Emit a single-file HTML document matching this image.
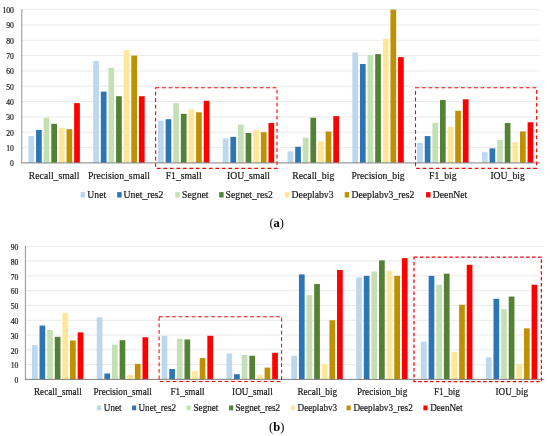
<!DOCTYPE html>
<html><head><meta charset="utf-8"><title>Figure</title>
<style>
html,body{margin:0;padding:0;background:#fff;}
svg{display:block;}
text{font-family:"Liberation Serif","Times New Roman",serif;fill:#1a1a1a;stroke:#1a1a1a;stroke-width:0.22px;}
.cap{font-size:12.5px;fill:#000;stroke:none;}
</style></head><body>
<svg width="550" height="436" viewBox="0 0 550 436">
<rect width="550" height="436" fill="#fff"/>
<text transform="translate(13.90,166.45) scale(0.85,1)" text-anchor="end" font-size="9" class="tk">0</text>
<line x1="21.75" x2="540.0" y1="147.57" y2="147.57" stroke="#E6E6E6" stroke-width="0.85"/>
<text transform="translate(13.90,151.12) scale(0.85,1)" text-anchor="end" font-size="9" class="tk">10</text>
<line x1="21.75" x2="540.0" y1="132.24" y2="132.24" stroke="#E6E6E6" stroke-width="0.85"/>
<text transform="translate(13.90,135.79) scale(0.85,1)" text-anchor="end" font-size="9" class="tk">20</text>
<line x1="21.75" x2="540.0" y1="116.91" y2="116.91" stroke="#E6E6E6" stroke-width="0.85"/>
<text transform="translate(13.90,120.46) scale(0.85,1)" text-anchor="end" font-size="9" class="tk">30</text>
<line x1="21.75" x2="540.0" y1="101.58" y2="101.58" stroke="#E6E6E6" stroke-width="0.85"/>
<text transform="translate(13.90,105.13) scale(0.85,1)" text-anchor="end" font-size="9" class="tk">40</text>
<line x1="21.75" x2="540.0" y1="86.25" y2="86.25" stroke="#E6E6E6" stroke-width="0.85"/>
<text transform="translate(13.90,89.80) scale(0.85,1)" text-anchor="end" font-size="9" class="tk">50</text>
<line x1="21.75" x2="540.0" y1="70.92" y2="70.92" stroke="#E6E6E6" stroke-width="0.85"/>
<text transform="translate(13.90,74.47) scale(0.85,1)" text-anchor="end" font-size="9" class="tk">60</text>
<line x1="21.75" x2="540.0" y1="55.59" y2="55.59" stroke="#E6E6E6" stroke-width="0.85"/>
<text transform="translate(13.90,59.14) scale(0.85,1)" text-anchor="end" font-size="9" class="tk">70</text>
<line x1="21.75" x2="540.0" y1="40.26" y2="40.26" stroke="#E6E6E6" stroke-width="0.85"/>
<text transform="translate(13.90,43.81) scale(0.85,1)" text-anchor="end" font-size="9" class="tk">80</text>
<line x1="21.75" x2="540.0" y1="24.93" y2="24.93" stroke="#E6E6E6" stroke-width="0.85"/>
<text transform="translate(13.90,28.48) scale(0.85,1)" text-anchor="end" font-size="9" class="tk">90</text>
<line x1="21.75" x2="540.0" y1="9.60" y2="9.60" stroke="#E6E6E6" stroke-width="0.85"/>
<text transform="translate(13.90,13.15) scale(0.85,1)" text-anchor="end" font-size="9" class="tk">100</text>
<rect x="28.43" y="136.07" width="5.7" height="26.83" fill="#BDD7EE"/>
<rect x="36.05" y="129.94" width="5.7" height="32.96" fill="#2E75B6"/>
<rect x="43.67" y="117.68" width="5.7" height="45.22" fill="#C5E0B4"/>
<rect x="51.29" y="123.81" width="5.7" height="39.09" fill="#548235"/>
<rect x="58.91" y="127.64" width="5.7" height="35.26" fill="#FFE699"/>
<rect x="66.53" y="129.17" width="5.7" height="33.73" fill="#BF9000"/>
<rect x="74.15" y="103.11" width="5.7" height="59.79" fill="#FF0000"/>
<text transform="translate(54.14,179.35) scale(0.881,1)" text-anchor="middle" font-size="11.0" class="cat">Recall_small</text>
<rect x="93.21" y="60.96" width="5.7" height="101.94" fill="#BDD7EE"/>
<rect x="100.83" y="91.62" width="5.7" height="71.28" fill="#2E75B6"/>
<rect x="108.45" y="67.85" width="5.7" height="95.05" fill="#C5E0B4"/>
<rect x="116.07" y="96.21" width="5.7" height="66.69" fill="#548235"/>
<rect x="123.69" y="50.22" width="5.7" height="112.68" fill="#FFE699"/>
<rect x="131.31" y="55.59" width="5.7" height="107.31" fill="#BF9000"/>
<rect x="138.93" y="96.21" width="5.7" height="66.69" fill="#FF0000"/>
<text transform="translate(118.92,179.35) scale(0.881,1)" text-anchor="middle" font-size="11.0" class="cat">Precision_small</text>
<rect x="157.99" y="120.74" width="5.7" height="42.16" fill="#BDD7EE"/>
<rect x="165.61" y="119.21" width="5.7" height="43.69" fill="#2E75B6"/>
<rect x="173.23" y="103.11" width="5.7" height="59.79" fill="#C5E0B4"/>
<rect x="180.85" y="113.84" width="5.7" height="49.06" fill="#548235"/>
<rect x="188.47" y="109.25" width="5.7" height="53.66" fill="#FFE699"/>
<rect x="196.09" y="112.31" width="5.7" height="50.59" fill="#BF9000"/>
<rect x="203.71" y="100.81" width="5.7" height="62.09" fill="#FF0000"/>
<text transform="translate(183.70,179.35) scale(0.881,1)" text-anchor="middle" font-size="11.0" class="cat">F1_small</text>
<rect x="222.77" y="138.37" width="5.7" height="24.53" fill="#BDD7EE"/>
<rect x="230.39" y="136.84" width="5.7" height="26.06" fill="#2E75B6"/>
<rect x="238.01" y="124.58" width="5.7" height="38.33" fill="#C5E0B4"/>
<rect x="245.63" y="133.01" width="5.7" height="29.89" fill="#548235"/>
<rect x="253.25" y="129.94" width="5.7" height="32.96" fill="#FFE699"/>
<rect x="260.87" y="132.24" width="5.7" height="30.66" fill="#BF9000"/>
<rect x="268.49" y="123.04" width="5.7" height="39.86" fill="#FF0000"/>
<text transform="translate(248.48,179.35) scale(0.881,1)" text-anchor="middle" font-size="11.0" class="cat">IOU_small</text>
<rect x="287.56" y="151.40" width="5.7" height="11.50" fill="#BDD7EE"/>
<rect x="295.18" y="146.80" width="5.7" height="16.10" fill="#2E75B6"/>
<rect x="302.80" y="137.61" width="5.7" height="25.29" fill="#C5E0B4"/>
<rect x="310.42" y="117.68" width="5.7" height="45.22" fill="#548235"/>
<rect x="318.04" y="141.44" width="5.7" height="21.46" fill="#FFE699"/>
<rect x="325.66" y="131.47" width="5.7" height="31.43" fill="#BF9000"/>
<rect x="333.28" y="116.14" width="5.7" height="46.76" fill="#FF0000"/>
<text transform="translate(313.27,179.35) scale(0.881,1)" text-anchor="middle" font-size="11.0" class="cat">Recall_big</text>
<rect x="352.34" y="52.52" width="5.7" height="110.38" fill="#BDD7EE"/>
<rect x="359.96" y="64.02" width="5.7" height="98.88" fill="#2E75B6"/>
<rect x="367.58" y="54.82" width="5.7" height="108.08" fill="#C5E0B4"/>
<rect x="375.20" y="54.06" width="5.7" height="108.84" fill="#548235"/>
<rect x="382.82" y="38.73" width="5.7" height="124.17" fill="#FFE699"/>
<rect x="390.44" y="9.60" width="5.7" height="153.30" fill="#BF9000"/>
<rect x="398.06" y="57.12" width="5.7" height="105.78" fill="#FF0000"/>
<text transform="translate(378.05,179.35) scale(0.881,1)" text-anchor="middle" font-size="11.0" class="cat">Precision_big</text>
<rect x="417.12" y="142.97" width="5.7" height="19.93" fill="#BDD7EE"/>
<rect x="424.74" y="136.07" width="5.7" height="26.83" fill="#2E75B6"/>
<rect x="432.36" y="123.04" width="5.7" height="39.86" fill="#C5E0B4"/>
<rect x="439.98" y="100.05" width="5.7" height="62.85" fill="#548235"/>
<rect x="447.60" y="126.87" width="5.7" height="36.03" fill="#FFE699"/>
<rect x="455.22" y="110.78" width="5.7" height="52.12" fill="#BF9000"/>
<rect x="462.84" y="99.28" width="5.7" height="63.62" fill="#FF0000"/>
<text transform="translate(442.83,179.35) scale(0.881,1)" text-anchor="middle" font-size="11.0" class="cat">F1_big</text>
<rect x="481.90" y="152.17" width="5.7" height="10.73" fill="#BDD7EE"/>
<rect x="489.52" y="148.34" width="5.7" height="14.56" fill="#2E75B6"/>
<rect x="497.14" y="139.91" width="5.7" height="23.00" fill="#C5E0B4"/>
<rect x="504.76" y="123.04" width="5.7" height="39.86" fill="#548235"/>
<rect x="512.38" y="142.20" width="5.7" height="20.70" fill="#FFE699"/>
<rect x="520.00" y="131.47" width="5.7" height="31.43" fill="#BF9000"/>
<rect x="527.62" y="122.28" width="5.7" height="40.62" fill="#FF0000"/>
<text transform="translate(507.61,179.35) scale(0.881,1)" text-anchor="middle" font-size="11.0" class="cat">IOU_big</text>
<line x1="21.75" x2="21.75" y1="9.2" y2="163.5" stroke="#858585" stroke-width="0.9"/>
<line x1="21.25" x2="540.0" y1="162.9" y2="162.9" stroke="#808080" stroke-width="1"/>
<rect x="155.6" y="87.7" width="121.40" height="80.70" fill="none" stroke="#FF0000" stroke-width="1.1" stroke-dasharray="3.7 2.8"/>
<rect x="415.5" y="87.7" width="121.10" height="80.70" fill="none" stroke="#FF0000" stroke-width="1.1" stroke-dasharray="3.7 2.8"/>
<rect x="80.6" y="192.10" width="4.4" height="5.4" fill="#BDD7EE"/>
<text transform="translate(87.30,198.20) scale(0.881,1)" text-anchor="start" font-size="11.0" class="leg">Unet</text>
<rect x="117.2" y="192.10" width="4.4" height="5.4" fill="#2E75B6"/>
<text transform="translate(123.60,198.20) scale(0.881,1)" text-anchor="start" font-size="11.0" class="leg">Unet_res2</text>
<rect x="175.3" y="192.10" width="4.4" height="5.4" fill="#C5E0B4"/>
<text transform="translate(182.10,198.20) scale(0.881,1)" text-anchor="start" font-size="11.0" class="leg">Segnet</text>
<rect x="219.2" y="192.10" width="4.4" height="5.4" fill="#548235"/>
<text transform="translate(225.60,198.20) scale(0.881,1)" text-anchor="start" font-size="11.0" class="leg">Segnet_res2</text>
<rect x="284.8" y="192.10" width="4.4" height="5.4" fill="#FFE699"/>
<text transform="translate(291.60,198.20) scale(0.881,1)" text-anchor="start" font-size="11.0" class="leg">Deeplabv3</text>
<rect x="344.7" y="192.10" width="4.4" height="5.4" fill="#BF9000"/>
<text transform="translate(351.50,198.20) scale(0.881,1)" text-anchor="start" font-size="11.0" class="leg">Deeplabv3_res2</text>
<rect x="426.1" y="192.10" width="4.4" height="5.4" fill="#FF0000"/>
<text transform="translate(432.80,198.20) scale(0.881,1)" text-anchor="start" font-size="11.0" class="leg">DeenNet</text>
<text x="276.7" y="226.9" text-anchor="middle" class="cap">(<tspan font-weight="bold">a</tspan>)</text>
<text transform="translate(18.40,383.10) scale(0.85,1)" text-anchor="end" font-size="9" class="tk">0</text>
<line x1="25.4" x2="544.2" y1="364.61" y2="364.61" stroke="#E6E6E6" stroke-width="0.85"/>
<text transform="translate(18.40,368.31) scale(0.85,1)" text-anchor="end" font-size="9" class="tk">10</text>
<line x1="25.4" x2="544.2" y1="349.82" y2="349.82" stroke="#E6E6E6" stroke-width="0.85"/>
<text transform="translate(18.40,353.52) scale(0.85,1)" text-anchor="end" font-size="9" class="tk">20</text>
<line x1="25.4" x2="544.2" y1="335.03" y2="335.03" stroke="#E6E6E6" stroke-width="0.85"/>
<text transform="translate(18.40,338.73) scale(0.85,1)" text-anchor="end" font-size="9" class="tk">30</text>
<line x1="25.4" x2="544.2" y1="320.24" y2="320.24" stroke="#E6E6E6" stroke-width="0.85"/>
<text transform="translate(18.40,323.94) scale(0.85,1)" text-anchor="end" font-size="9" class="tk">40</text>
<line x1="25.4" x2="544.2" y1="305.46" y2="305.46" stroke="#E6E6E6" stroke-width="0.85"/>
<text transform="translate(18.40,309.16) scale(0.85,1)" text-anchor="end" font-size="9" class="tk">50</text>
<line x1="25.4" x2="544.2" y1="290.67" y2="290.67" stroke="#E6E6E6" stroke-width="0.85"/>
<text transform="translate(18.40,294.37) scale(0.85,1)" text-anchor="end" font-size="9" class="tk">60</text>
<line x1="25.4" x2="544.2" y1="275.88" y2="275.88" stroke="#E6E6E6" stroke-width="0.85"/>
<text transform="translate(18.40,279.58) scale(0.85,1)" text-anchor="end" font-size="9" class="tk">70</text>
<line x1="25.4" x2="544.2" y1="261.09" y2="261.09" stroke="#E6E6E6" stroke-width="0.85"/>
<text transform="translate(18.40,264.79) scale(0.85,1)" text-anchor="end" font-size="9" class="tk">80</text>
<line x1="25.4" x2="544.2" y1="246.30" y2="246.30" stroke="#E6E6E6" stroke-width="0.85"/>
<text transform="translate(18.40,250.00) scale(0.85,1)" text-anchor="end" font-size="9" class="tk">90</text>
<rect x="31.92" y="344.94" width="5.7" height="34.46" fill="#BDD7EE"/>
<rect x="39.53" y="325.57" width="5.7" height="53.83" fill="#2E75B6"/>
<rect x="47.16" y="330.01" width="5.7" height="49.39" fill="#C5E0B4"/>
<rect x="54.77" y="336.81" width="5.7" height="42.59" fill="#548235"/>
<rect x="62.39" y="312.85" width="5.7" height="66.55" fill="#FFE699"/>
<rect x="70.02" y="340.51" width="5.7" height="38.89" fill="#BF9000"/>
<rect x="77.64" y="332.37" width="5.7" height="47.03" fill="#FF0000"/>
<text transform="translate(57.83,394.55) scale(0.897,1)" text-anchor="middle" font-size="10.2" class="cat">Recall_small</text>
<rect x="96.77" y="317.29" width="5.7" height="62.11" fill="#BDD7EE"/>
<rect x="104.39" y="373.48" width="5.7" height="5.92" fill="#2E75B6"/>
<rect x="112.00" y="344.65" width="5.7" height="34.75" fill="#C5E0B4"/>
<rect x="119.62" y="340.21" width="5.7" height="39.19" fill="#548235"/>
<rect x="127.25" y="374.96" width="5.7" height="4.44" fill="#FFE699"/>
<rect x="134.87" y="363.87" width="5.7" height="15.53" fill="#BF9000"/>
<rect x="142.49" y="337.25" width="5.7" height="42.15" fill="#FF0000"/>
<text transform="translate(122.68,394.55) scale(0.897,1)" text-anchor="middle" font-size="10.2" class="cat">Precision_small</text>
<rect x="161.62" y="335.77" width="5.7" height="43.63" fill="#BDD7EE"/>
<rect x="169.24" y="369.05" width="5.7" height="10.35" fill="#2E75B6"/>
<rect x="176.86" y="338.73" width="5.7" height="40.67" fill="#C5E0B4"/>
<rect x="184.48" y="339.47" width="5.7" height="39.93" fill="#548235"/>
<rect x="192.10" y="371.27" width="5.7" height="8.13" fill="#FFE699"/>
<rect x="199.72" y="357.96" width="5.7" height="21.44" fill="#BF9000"/>
<rect x="207.34" y="335.77" width="5.7" height="43.63" fill="#FF0000"/>
<text transform="translate(187.53,394.55) scale(0.897,1)" text-anchor="middle" font-size="10.2" class="cat">F1_small</text>
<rect x="226.47" y="353.52" width="5.7" height="25.88" fill="#BDD7EE"/>
<rect x="234.09" y="374.22" width="5.7" height="5.18" fill="#2E75B6"/>
<rect x="241.71" y="355.00" width="5.7" height="24.40" fill="#C5E0B4"/>
<rect x="249.33" y="355.74" width="5.7" height="23.66" fill="#548235"/>
<rect x="256.95" y="374.96" width="5.7" height="4.44" fill="#FFE699"/>
<rect x="264.57" y="367.57" width="5.7" height="11.83" fill="#BF9000"/>
<rect x="272.19" y="352.78" width="5.7" height="26.62" fill="#FF0000"/>
<text transform="translate(252.38,394.55) scale(0.897,1)" text-anchor="middle" font-size="10.2" class="cat">IOU_small</text>
<rect x="291.31" y="355.74" width="5.7" height="23.66" fill="#BDD7EE"/>
<rect x="298.94" y="274.40" width="5.7" height="105.00" fill="#2E75B6"/>
<rect x="306.56" y="295.10" width="5.7" height="84.30" fill="#C5E0B4"/>
<rect x="314.18" y="284.01" width="5.7" height="95.39" fill="#548235"/>
<rect x="321.80" y="363.87" width="5.7" height="15.53" fill="#FFE699"/>
<rect x="329.42" y="320.24" width="5.7" height="59.16" fill="#BF9000"/>
<rect x="337.04" y="269.96" width="5.7" height="109.44" fill="#FF0000"/>
<text transform="translate(317.23,394.55) scale(0.897,1)" text-anchor="middle" font-size="10.2" class="cat">Recall_big</text>
<rect x="356.17" y="277.36" width="5.7" height="102.04" fill="#BDD7EE"/>
<rect x="363.79" y="275.88" width="5.7" height="103.52" fill="#2E75B6"/>
<rect x="371.41" y="271.44" width="5.7" height="107.96" fill="#C5E0B4"/>
<rect x="379.03" y="260.35" width="5.7" height="119.05" fill="#548235"/>
<rect x="386.65" y="270.70" width="5.7" height="108.70" fill="#FFE699"/>
<rect x="394.27" y="275.88" width="5.7" height="103.52" fill="#BF9000"/>
<rect x="401.89" y="258.13" width="5.7" height="121.27" fill="#FF0000"/>
<text transform="translate(382.08,394.55) scale(0.897,1)" text-anchor="middle" font-size="10.2" class="cat">Precision_big</text>
<rect x="421.02" y="341.69" width="5.7" height="37.71" fill="#BDD7EE"/>
<rect x="428.64" y="275.88" width="5.7" height="103.52" fill="#2E75B6"/>
<rect x="436.26" y="284.75" width="5.7" height="94.65" fill="#C5E0B4"/>
<rect x="443.88" y="273.66" width="5.7" height="105.74" fill="#548235"/>
<rect x="451.50" y="352.04" width="5.7" height="27.36" fill="#FFE699"/>
<rect x="459.12" y="304.72" width="5.7" height="74.68" fill="#BF9000"/>
<rect x="466.74" y="264.79" width="5.7" height="114.61" fill="#FF0000"/>
<text transform="translate(446.93,394.55) scale(0.897,1)" text-anchor="middle" font-size="10.2" class="cat">F1_big</text>
<rect x="485.87" y="357.22" width="5.7" height="22.18" fill="#BDD7EE"/>
<rect x="493.49" y="298.80" width="5.7" height="80.60" fill="#2E75B6"/>
<rect x="501.11" y="309.15" width="5.7" height="70.25" fill="#C5E0B4"/>
<rect x="508.73" y="296.58" width="5.7" height="82.82" fill="#548235"/>
<rect x="516.35" y="363.87" width="5.7" height="15.53" fill="#FFE699"/>
<rect x="523.97" y="328.38" width="5.7" height="51.02" fill="#BF9000"/>
<rect x="531.59" y="284.75" width="5.7" height="94.65" fill="#FF0000"/>
<text transform="translate(511.78,394.55) scale(0.897,1)" text-anchor="middle" font-size="10.2" class="cat">IOU_big</text>
<line x1="25.4" x2="25.4" y1="245.9" y2="380.0" stroke="#858585" stroke-width="0.9"/>
<line x1="24.9" x2="544.2" y1="379.4" y2="379.4" stroke="#808080" stroke-width="1"/>
<rect x="159.1" y="316.7" width="122.50" height="64.80" fill="none" stroke="#FF0000" stroke-width="1.05" stroke-dasharray="3.7 2.8"/>
<rect x="414.0" y="257.0" width="127.40" height="124.60" fill="none" stroke="#FF0000" stroke-width="1.25" stroke-dasharray="3.5 2.4"/>
<rect x="97.0" y="405.50" width="4.1" height="4.8" fill="#BDD7EE"/>
<text transform="translate(103.80,411.00) scale(0.897,1)" text-anchor="start" font-size="10.2" class="leg">Unet</text>
<rect x="132.1" y="405.50" width="4.1" height="4.8" fill="#2E75B6"/>
<text transform="translate(138.50,411.00) scale(0.897,1)" text-anchor="start" font-size="10.2" class="leg">Unet_res2</text>
<rect x="186.7" y="405.50" width="4.1" height="4.8" fill="#C5E0B4"/>
<text transform="translate(193.50,411.00) scale(0.897,1)" text-anchor="start" font-size="10.2" class="leg">Segnet</text>
<rect x="229.1" y="405.50" width="4.1" height="4.8" fill="#548235"/>
<text transform="translate(235.50,411.00) scale(0.897,1)" text-anchor="start" font-size="10.2" class="leg">Segnet_res2</text>
<rect x="290.8" y="405.50" width="4.1" height="4.8" fill="#FFE699"/>
<text transform="translate(297.60,411.00) scale(0.897,1)" text-anchor="start" font-size="10.2" class="leg">Deeplabv3</text>
<rect x="346.6" y="405.50" width="4.1" height="4.8" fill="#BF9000"/>
<text transform="translate(353.40,411.00) scale(0.897,1)" text-anchor="start" font-size="10.2" class="leg">Deeplabv3_res2</text>
<rect x="423.4" y="405.50" width="4.1" height="4.8" fill="#FF0000"/>
<text transform="translate(430.20,411.00) scale(0.897,1)" text-anchor="start" font-size="10.2" class="leg">DeenNet</text>
<text x="276.7" y="430.6" text-anchor="middle" class="cap">(<tspan font-weight="bold">b</tspan>)</text>
</svg>
</body></html>
